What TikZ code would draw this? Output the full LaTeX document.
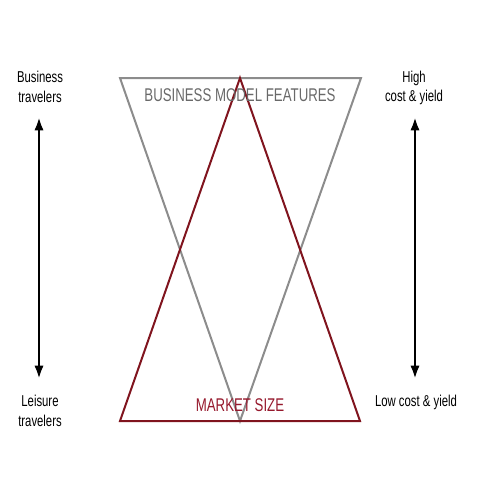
\documentclass[tikz,border=0pt]{standalone}
\usepackage{fontspec}
\setmainfont[FakeStretch=0.72]{Liberation Sans}
\usetikzlibrary{arrows.meta}
\definecolor{tgrey}{RGB}{140,140,140}
\definecolor{tgreytext}{RGB}{105,105,105}
\definecolor{tred}{RGB}{128,20,30}
\definecolor{tredtext}{RGB}{150,25,45}
\tikzset{
  lbl/.style={align=center, inner sep=0pt, font=\fontsize{11.8}{14.5}\selectfont, text=black},
  title/.style={inner sep=0pt, font=\fontsize{13.8}{15}\selectfont},
  tri/.style={line width=1.5pt, line join=miter},
  bigarrow/.style={line width=2.2pt, {Latex[length=10pt,width=7pt]}-{Latex[length=10pt,width=7pt]}}
}
\begin{document}
\begin{tikzpicture}[x=0.75pt,y=-0.75pt]
\useasboundingbox (0,0) rectangle (480,480);
% grey inverted triangle
\coordinate (g1) at (120,78);
\coordinate (g2) at (361,78);
\coordinate (g3) at (240,421);
% red triangle
\coordinate (r1) at (240,78);
\coordinate (r2) at (120,421);
\coordinate (r3) at (360,421);
\draw[tri, tgrey] (g1) -- (g2) -- (g3) -- cycle;
\draw[tri, tred] (r1) -- (r3) -- (r2) -- cycle;
\node[title, text=tgreytext] (bmf) at (240,95) {BUSINESS MODEL FEATURES};
\node[title, text=tredtext] (ms) at (240,405) {MARKET SIZE};
% left side
\node[lbl] (bt) at (40,87) {Business\\travelers};
\node[lbl] (lt) at (40,411) {Leisure\\travelers};
\coordinate (la1) at (39,117);
\coordinate (la2) at (39,379);
\draw[bigarrow] (la1) -- (la2);
% right side
\node[lbl] (hc) at (414,88) {High\\cost \& yield};
\node[lbl] (lc) at (416,402) {Low cost \& yield};
\coordinate (ra1) at (415,117);
\coordinate (ra2) at (415,379);
\draw[bigarrow] (ra1) -- (ra2);
\end{tikzpicture}
\end{document}
